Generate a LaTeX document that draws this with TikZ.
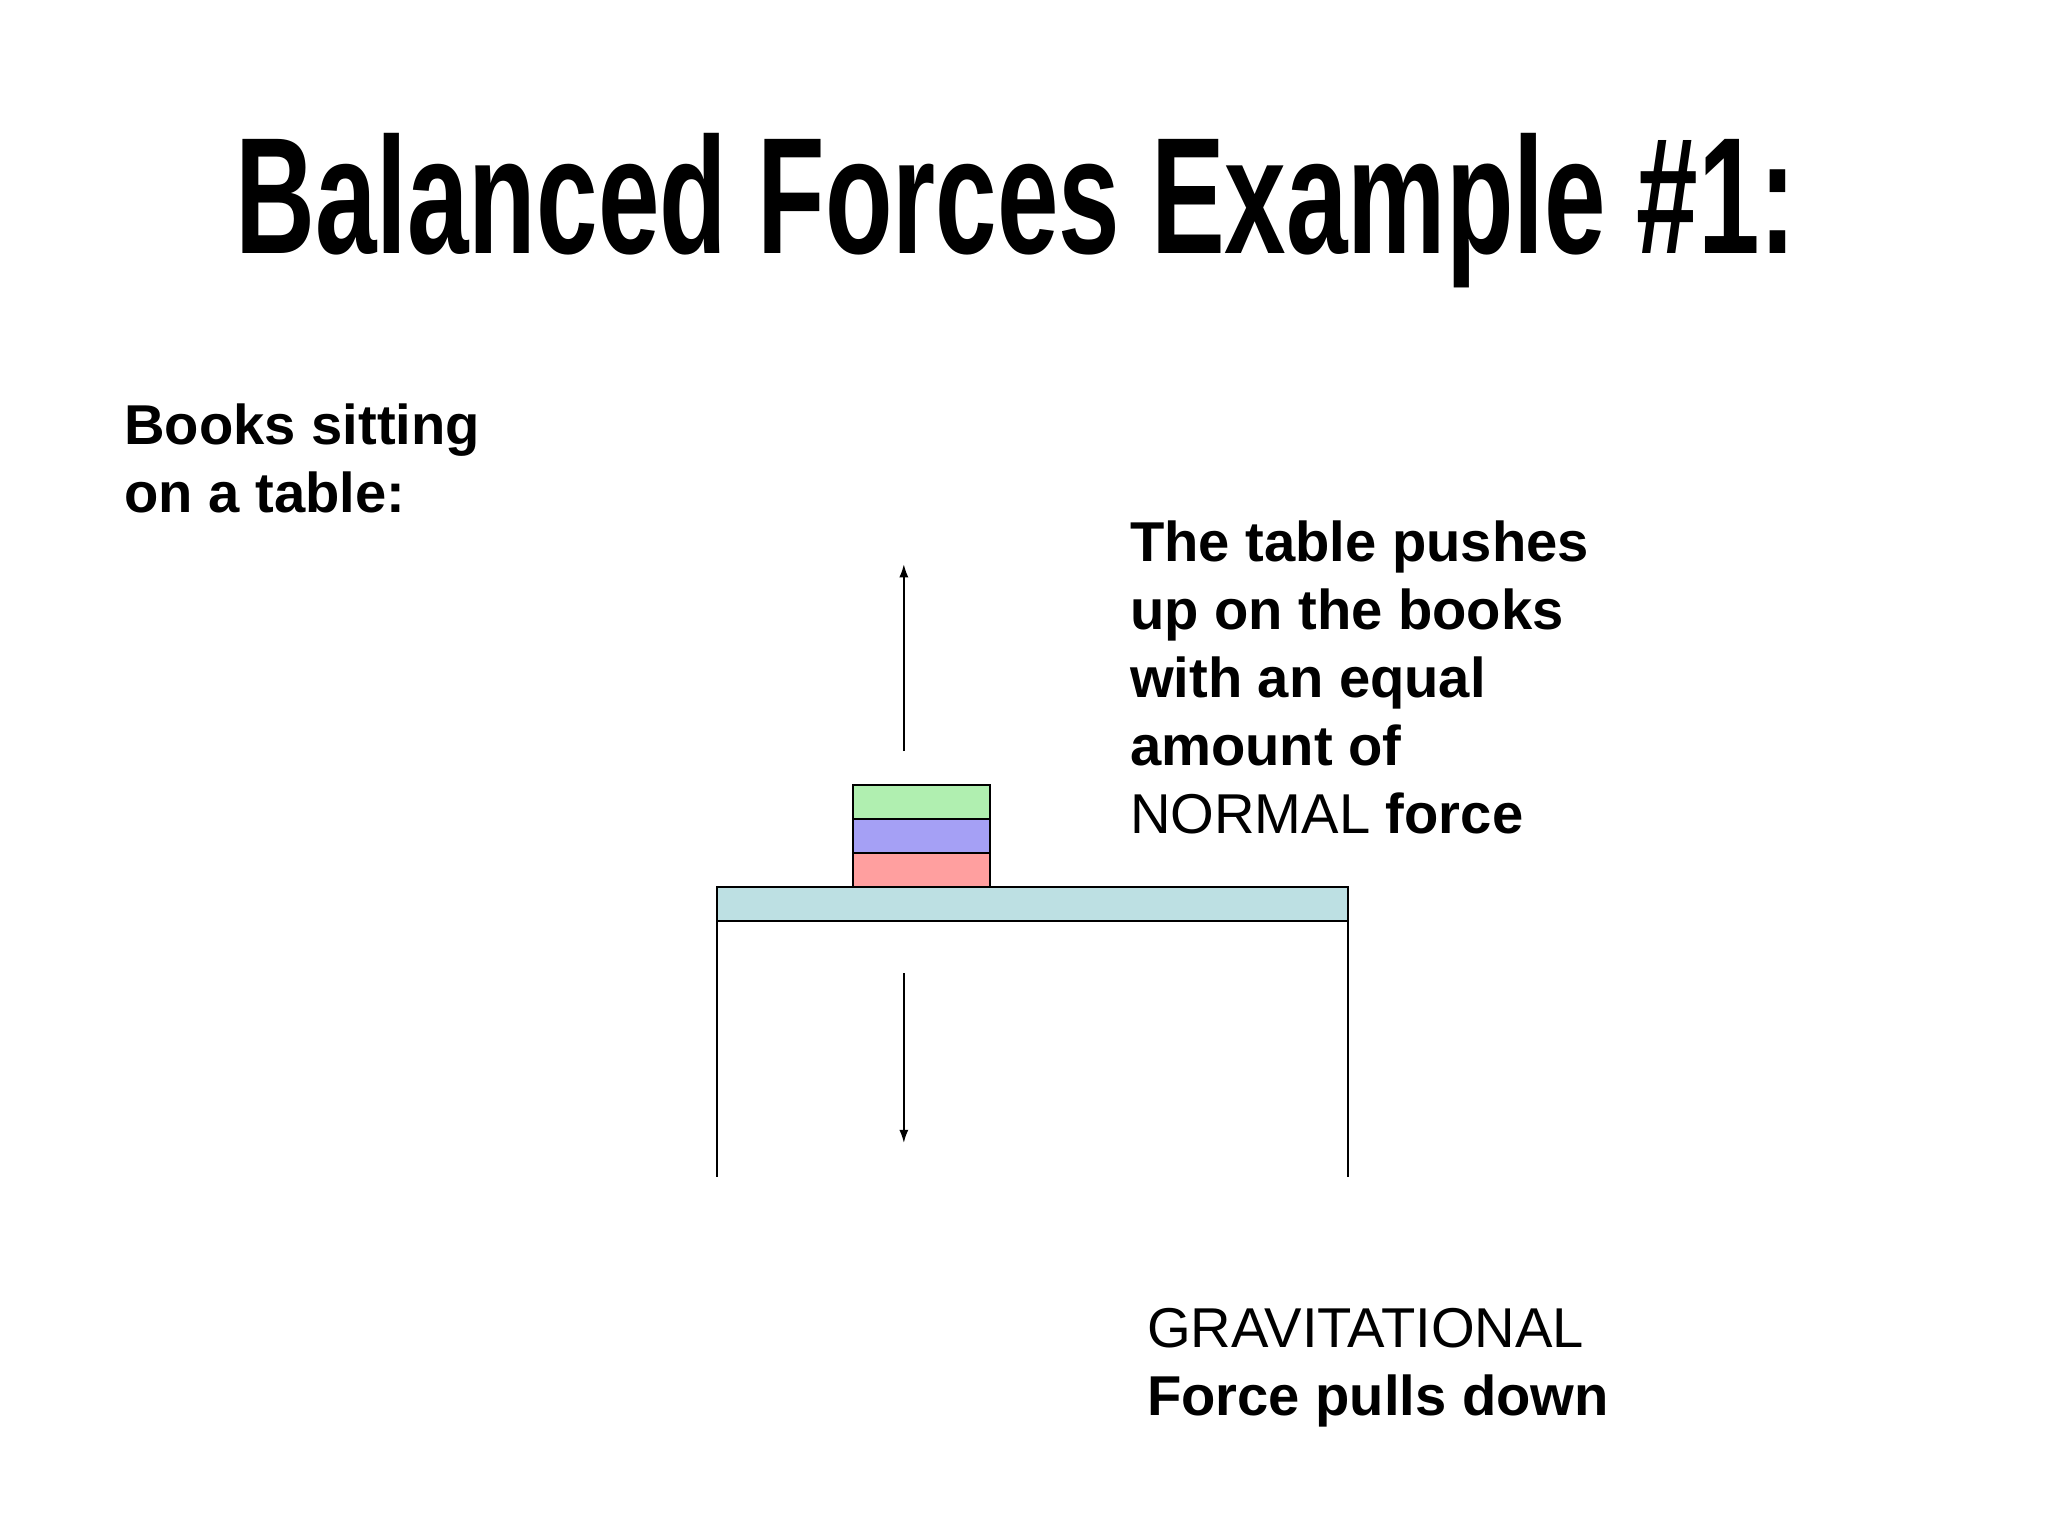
\documentclass[tikz,border=0pt]{standalone}
\usepackage{fontspec}
\setmainfont{Liberation Sans}
\usetikzlibrary{arrows.meta}
\begin{document}
\begin{tikzpicture}[x=1pt,y=-1pt,
  txt/.style={anchor=base west,inner sep=0pt,font=\fontsize{43}{50}\selectfont},
  book/.style={draw=black,line width=1.2pt},
  force/.style={line width=1.2pt,-{Latex[length=10pt,width=7pt]}}]
\useasboundingbox (0,0) rectangle (1568,1176);
\node[anchor=north west,inner sep=0pt] (title) at (180,102)
  {\resizebox{1195pt}{92pt}{\bfseries Balanced Forces Example \#1:}};
\node[txt] (b1) at (95,340) {\bfseries Books sitting};
\node[txt] (b2) at (95,392) {\bfseries on a table:};
\node[txt] (n1) at (865,430) {\bfseries The table pushes};
\node[txt] (n2) at (865,482) {\bfseries up on the books};
\node[txt] (n3) at (865,534) {\bfseries with an equal};
\node[txt] (n4) at (865,586) {\bfseries amount of};
\node[txt] (n5) at (865,638) {NORMAL \bfseries force};
\node[txt] (g1) at (878,1032) {GRAVITATIONAL};
\node[txt] (g2) at (878,1084) {\bfseries Force pulls down};
\definecolor{bg}{HTML}{B0EFB0}\definecolor{bb}{HTML}{A5A0F5}
\definecolor{br}{HTML}{FF9F9F}\definecolor{tb}{HTML}{BDE0E3}
\draw[book,fill=bg] (653,601) rectangle (758,627);
\draw[book,fill=bb] (653,627) rectangle (758,653);
\draw[book,fill=br] (653,653) rectangle (758,679);
\draw[book,fill=tb] (549,679) rectangle (1032,705);
\draw[line width=1.2pt] (549,705) -- (549,901);
\draw[line width=1.2pt] (1032,705) -- (1032,901);
\coordinate (ua) at (692,575); \coordinate (ub) at (692,432);
\coordinate (da) at (692,745); \coordinate (db) at (692,875);
\draw[force] (ua) -- (ub);
\draw[force] (da) -- (db);
\end{tikzpicture}
\end{document}
